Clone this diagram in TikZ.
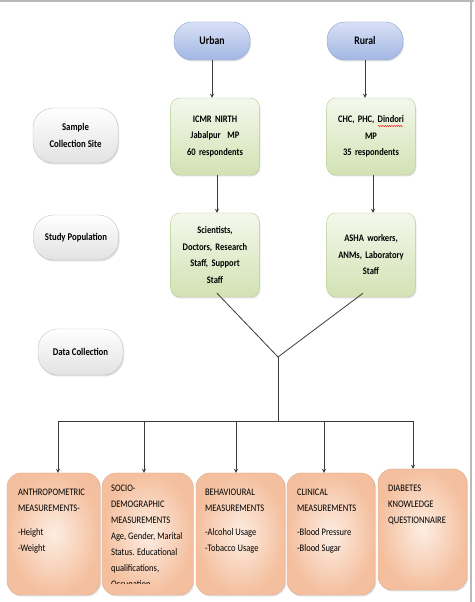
\documentclass[tikz,border=0pt]{standalone}
\usepackage{fontspec}
\setmainfont{Carlito}
\newfontfamily\condfont{Carlito}[FakeStretch=0.85]
\usetikzlibrary{shadows, decorations.pathmorphing}

\definecolor{areatop}{HTML}{D8E0F5}
\definecolor{areabot}{HTML}{A2B7E4}
\definecolor{arealine}{HTML}{8DA3D3}
\definecolor{sitetop}{HTML}{F4F8EC}
\definecolor{sitebot}{HTML}{D2E2B3}
\definecolor{siteline}{HTML}{B9CF96}
\definecolor{stagebot}{HTML}{E2E2E2}
\definecolor{stageline}{HTML}{C4C4C4}
\definecolor{measin}{HTML}{FDEDE2}
\definecolor{measout}{HTML}{F4BF9E}
\definecolor{measline}{HTML}{E5AA86}
\definecolor{flowline}{HTML}{3A3A3A}

\begin{document}
\begin{tikzpicture}[x=1pt, y=1pt, >=stealth, semithick,
    boxshadow/.style={drop shadow={opacity=0.25, shadow xshift=1pt, shadow yshift=-1.5pt}},
    area/.style={draw=arealine, thin, top color=areatop, bottom color=areabot, rounded corners=18pt,
        minimum width=76pt, minimum height=38pt, boxshadow, font=\condfont\fontsize{11.5}{13}\selectfont\bfseries},
    site/.style={draw=siteline, thin, top color=sitetop, bottom color=sitebot, rounded corners=9pt,
        minimum width=86pt, minimum height=77pt, text width=82pt, align=center, boxshadow,
        font=\condfont\fontsize{10}{16.5}\selectfont\bfseries},
    stage/.style={draw=stageline, thin, top color=white, bottom color=stagebot, rounded corners=20pt,
        minimum width=85pt, minimum height=55pt, align=center, boxshadow,
        font=\condfont\fontsize{10.3}{16.5}\selectfont\bfseries},
    measure/.style={draw=measline, thin, inner color=measin, outer color=measout, rounded corners=14pt,
        minimum height=122pt, boxshadow},
    listtext/.style={anchor=north west, inner sep=0pt, align=left, font=\condfont\fontsize{10}{16}\selectfont},
    flow/.style={draw=flowline, line width=0.8pt},
    spellwave/.style={draw=red, thin, decorate, decoration={snake, amplitude=0.6pt, segment length=2.2pt}}]

    \useasboundingbox (0,0) rectangle (474,602);
    \fill[white] (0,0) rectangle (474,602);
    \fill[gray!55] (0,600) rectangle (474,602);
    \fill[gray!55] (470,0) rectangle (472,600);

    % row labels
    \node[stage] (sample) at (75.5,466.5) {Sample\\Collection Site};
    \node[stage, minimum height=45pt] (study) at (76,364.5) {Study Population};
    \node[stage, minimum height=46pt] (datacol) at (80.5,250) {Data Collection};

    % areas and sites
    \node[area] (urban) at (212,561) {Urban};
    \node[area] (rural) at (365,561) {Rural};

    \node[site] (icmr) at (215,465.5) {ICMR NIRTH\\Jabalpur~ MP\\60 respondents};
    \node[site] (chc) at (371,465.5) {CHC, PHC, Dindori\\MP\\35 respondents};
    \draw[spellwave] ([xshift=7pt, yshift=10.5pt]chc.center) -- ([xshift=32pt, yshift=10.5pt]chc.center);

    \node[site, minimum height=84pt] (sci) at (215,347) {Scientists,\\Doctors, Research\\Staff, Support\\Staff};
    \node[site, minimum height=84pt] (asha) at (371,347) {ASHA workers,\\ANMs, Laboratory\\Staff};

    \draw[flow, ->] (urban.south) -- (urban.south |- icmr.north);
    \draw[flow, ->] (rural.south) -- (rural.south |- chc.north);
    \draw[flow, ->] ([xshift=2pt]icmr.south) -- ([xshift=2pt]sci.north);
    \draw[flow, ->] ([xshift=2pt]chc.south) -- ([xshift=2pt]asha.north);

    % measurements
    \node[measure, minimum width=93pt] (m1) at (53.5,68) {};
    \node[measure, minimum width=91pt] (m2) at (147.5,68) {};
    \node[measure, minimum width=89pt] (m3) at (240.5,68) {};
    \node[measure, minimum width=88pt] (m4) at (331,68) {};
    \node[measure, minimum width=89pt, minimum height=121pt] (m5) at (422.5,72.5) {};

    \node[listtext] (t1) at ([xshift=11pt, yshift=-15.6pt]m1.north west) {ANTHROPOMETRIC\\MEASUREMENTS-\\[8pt]-Height\\-Weight};
    \begin{scope}
        \clip ([yshift=12pt]m2.south west) rectangle (m2.north east);
        \node[listtext] (t2) at ([xshift=9pt, yshift=-11.6pt]m2.north west) {SOCIO-\\DEMOGRAPHIC\\MEASUREMENTS\\Age, Gender, Marital\\Status. Educational\\qualifications,\\Occupation};
    \end{scope}
    \node[listtext] (t3) at ([xshift=9pt, yshift=-15.6pt]m3.north west) {BEHAVIOURAL\\MEASUREMENTS\\[8pt]-Alcohol Usage\\-Tobacco Usage};
    \node[listtext] (t4) at ([xshift=10pt, yshift=-15.6pt]m4.north west) {CLINICAL\\MEASUREMENTS\\[8pt]-Blood Pressure\\-Blood Sugar};
    \node[listtext] (t5) at ([xshift=10pt, yshift=-15.6pt]m5.north west) {DIABETES\\KNOWLEDGE\\QUESTIONNAIRE};

    % fork and bus
    \coordinate (fork) at (278,245);
    \coordinate (b1) at (58,181);
    \coordinate (b2) at (144,181);
    \coordinate (b3) at (236,181);
    \coordinate (b4) at (324,181);
    \coordinate (b5) at (413,181);

    \draw[flow] ([xshift=2pt, yshift=4pt]sci.south) -- (fork) -- ([xshift=-8pt, yshift=4pt]asha.south);
    \draw[flow] (fork) -- (fork |- b1);
    \draw[flow] (b1) -- (b5);
    \foreach \i in {1,...,5}
        \draw[flow, ->] (b\i) -- (b\i |- m\i.north);
\end{tikzpicture}
\end{document}
